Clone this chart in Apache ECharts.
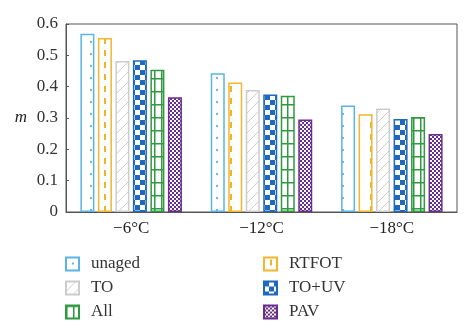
<!DOCTYPE html>
<html>
<head>
<meta charset="utf-8">
<script src="https://cdn.jsdelivr.net/npm/echarts@6/dist/echarts.min.js"></script>
<style>html,body{margin:0;padding:0;background:#fff;}#c{width:474px;height:336px;}</style>
</head>
<body>
<div id="c"></div>
<script>
const categories = ['−6°C', '−12°C', '−18°C'];
const seriesNames = ['unaged', 'RTFOT', 'TO', 'TO+UV', 'All', 'PAV'];
const unaged = [0.569, 0.443, 0.340];
const rtfot = [0.555, 0.413, 0.312];
const to = [0.482, 0.389, 0.330];
const toUv = [0.484, 0.375, 0.297];
const all = [0.454, 0.371, 0.303];
const pav = [0.366, 0.295, 0.249];
const yTicks = [0, 0.1, 0.2, 0.3, 0.4, 0.5, 0.6];

function mk(w, h, draw) {
  const c = document.createElement('canvas');
  c.width = w; c.height = h;
  const g = c.getContext('2d');
  g.fillStyle = '#fff'; g.fillRect(0, 0, w, h);
  draw(g);
  return { image: c, repeat: 'repeat' };
}
const patterns = {
  unaged: mk(14, 12, g => { g.fillStyle = '#3f9fc8'; g.beginPath(); g.arc(7, 6, 1, 0, Math.PI * 2); g.fill(); }),
  rtfot: mk(14, 12, g => { g.fillStyle = '#f0b429'; g.fillRect(6, 2, 2, 6); }),
  to: mk(10, 10, g => { g.strokeStyle = '#cfcfcf'; g.lineWidth = 1; g.beginPath(); g.moveTo(0, 10); g.lineTo(10, 0); g.stroke(); }),
  toUv: mk(10, 10, g => { g.fillStyle = '#1f68bf'; g.fillRect(0, 0, 5, 5); g.fillRect(5, 5, 5, 5); }),
  all: mk(7, 13, g => { g.fillStyle = '#2f9a40'; g.fillRect(0, 0, 1.5, 13); g.fillRect(0, 0, 7, 1.5); }),
  pav: mk(4, 4, g => { g.fillStyle = '#6a2d8e'; g.fillRect(0, 0, 2, 2); g.fillRect(2, 2, 2, 2); })
};
const borders = { unaged: '#5ab4e6', rtfot: '#f2b631', to: '#cccccc', toUv: '#1f68bf', all: '#2f9a40', pav: '#6a2d8e' };
const dataMap = { unaged, rtfot, to, toUv, all, pav };
const keys = ['unaged', 'rtfot', 'to', 'toUv', 'all', 'pav'];

const serif = '"Liberation Serif", "DejaVu Serif", serif';
const legendText = { fontFamily: serif, fontSize: 17, color: '#333', padding: [0, 0, 0, 7], lineHeight: 18 };
const chart = echarts.init(document.getElementById('c'), null, { renderer: 'canvas' });
chart.setOption({
  animation: false,
  backgroundColor: '#fff',
  grid: { left: 66, right: 17, top: 24, bottom: 124, show: true, borderColor: '#555', borderWidth: 1 },
  legend: [
    { data: ['unaged', 'TO', 'All'], orient: 'vertical', left: 65, top: 255, height: 81, padding: 0, itemWidth: 13, itemHeight: 13, itemGap: 6, icon: 'rect',
      textStyle: legendText },
    { data: ['RTFOT', 'TO+UV', 'PAV'], orient: 'vertical', left: 263, top: 255, height: 81, padding: 0, itemWidth: 13, itemHeight: 13, itemGap: 6, icon: 'rect',
      textStyle: legendText }
  ],
  xAxis: {
    type: 'category', data: categories,
    axisLine: { lineStyle: { color: '#555' } },
    axisTick: { show: false },
    axisLabel: { fontFamily: serif, fontSize: 17, color: '#222', margin: 8 }
  },
  yAxis: {
    type: 'value', min: 0, max: 0.6, interval: 0.1,
    name: 'm', nameLocation: 'middle', nameGap: 39, nameRotate: 0,
    nameTextStyle: { fontFamily: serif, fontSize: 17, fontStyle: 'italic', color: '#222' },
    axisLine: { show: true, lineStyle: { color: '#555' } },
    axisTick: { show: true, inside: true, length: 3, lineStyle: { color: '#555' } },
    splitLine: { show: false },
    axisLabel: { fontFamily: serif, fontSize: 17, color: '#333', margin: 8,
      formatter: v => { const t = yTicks.find(x => Math.abs(x - v) < 1e-9); return String(t !== undefined ? t : v); } }
  },
  series: keys.map((k, i) => ({
    name: seriesNames[i], type: 'bar', data: dataMap[k],
    barWidth: 14, barGap: '25%',
    itemStyle: { color: patterns[k], borderColor: borders[k], borderWidth: 1.5 }
  }))
});
</script>
</body>
</html>
